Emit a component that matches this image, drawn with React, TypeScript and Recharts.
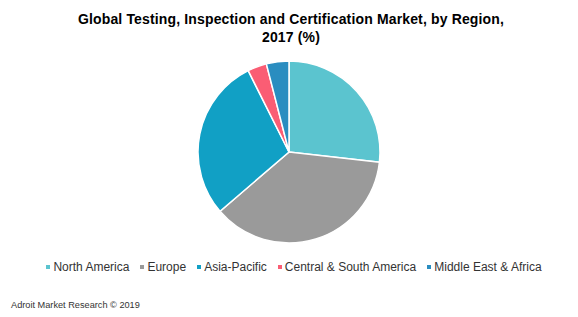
import { Legend, Pie, PieChart, Cell } from "recharts"

const regions = ["North America", "Europe", "Asia-Pacific", "Central & South America", "Middle East & Africa"]
const shares = [26.8, 36.9, 28.9, 3.4, 4.0]
const colors = ["#5bc4cf", "#9a9a9a", "#11a0c5", "#fa5d74", "#2a8dc0"]

const data = regions.map((name, i) => ({ name, value: shares[i] }))

const font = "'Liberation Sans', Arial, sans-serif"

function LegendRow() {
  return (
    <div style={{ display: "flex", justifyContent: "center", fontFamily: font, fontSize: 12, color: "#333" }}>
      {regions.map((r, i) => (
        <div key={r} style={{ display: "flex", alignItems: "center", marginRight: i < regions.length - 1 ? 11 : 0 }}>
          <span style={{ width: 4, height: 4, background: colors[i], marginRight: 3, display: "inline-block" }} />
          <span>{r}</span>
        </div>
      ))}
    </div>
  )
}

export default function App() {
  return (
    <div style={{ position: "relative", width: 578, height: 317, background: "#fff", fontFamily: font }}>
      <style>{`body{margin:0}`}</style>
      <div
        style={{
          position: "absolute",
          top: 10,
          left: 0,
          width: 582,
          textAlign: "center",
          fontWeight: "bold",
          fontSize: 14,
          letterSpacing: 0.15,
          lineHeight: "18px",
          color: "#000",
        }}
      >
        Global Testing, Inspection and Certification Market, by Region,
        <br />
        2017 (%)
      </div>
      <PieChart
        width={578}
        height={317}
        margin={{ top: 0, right: 0, bottom: 0, left: 0 }}
        style={{ position: "absolute", top: 0, left: 0 }}
      >
        <Pie
          data={data}
          dataKey="value"
          nameKey="name"
          cx={289}
          cy={152}
          outerRadius={91}
          startAngle={90}
          endAngle={-270}
          stroke="#fff"
          strokeWidth={1.5}
          isAnimationActive={false}
        >
          {data.map((d, i) => (
            <Cell key={d.name} fill={colors[i]} />
          ))}
        </Pie>
        <Legend content={<LegendRow />} wrapperStyle={{ top: 260, left: 0, width: 588 }} />
      </PieChart>
      <div style={{ position: "absolute", left: 11, top: 300, fontSize: 9.2, color: "#333" }}>
        Adroit Market Research © 2019
      </div>
    </div>
  )
}
